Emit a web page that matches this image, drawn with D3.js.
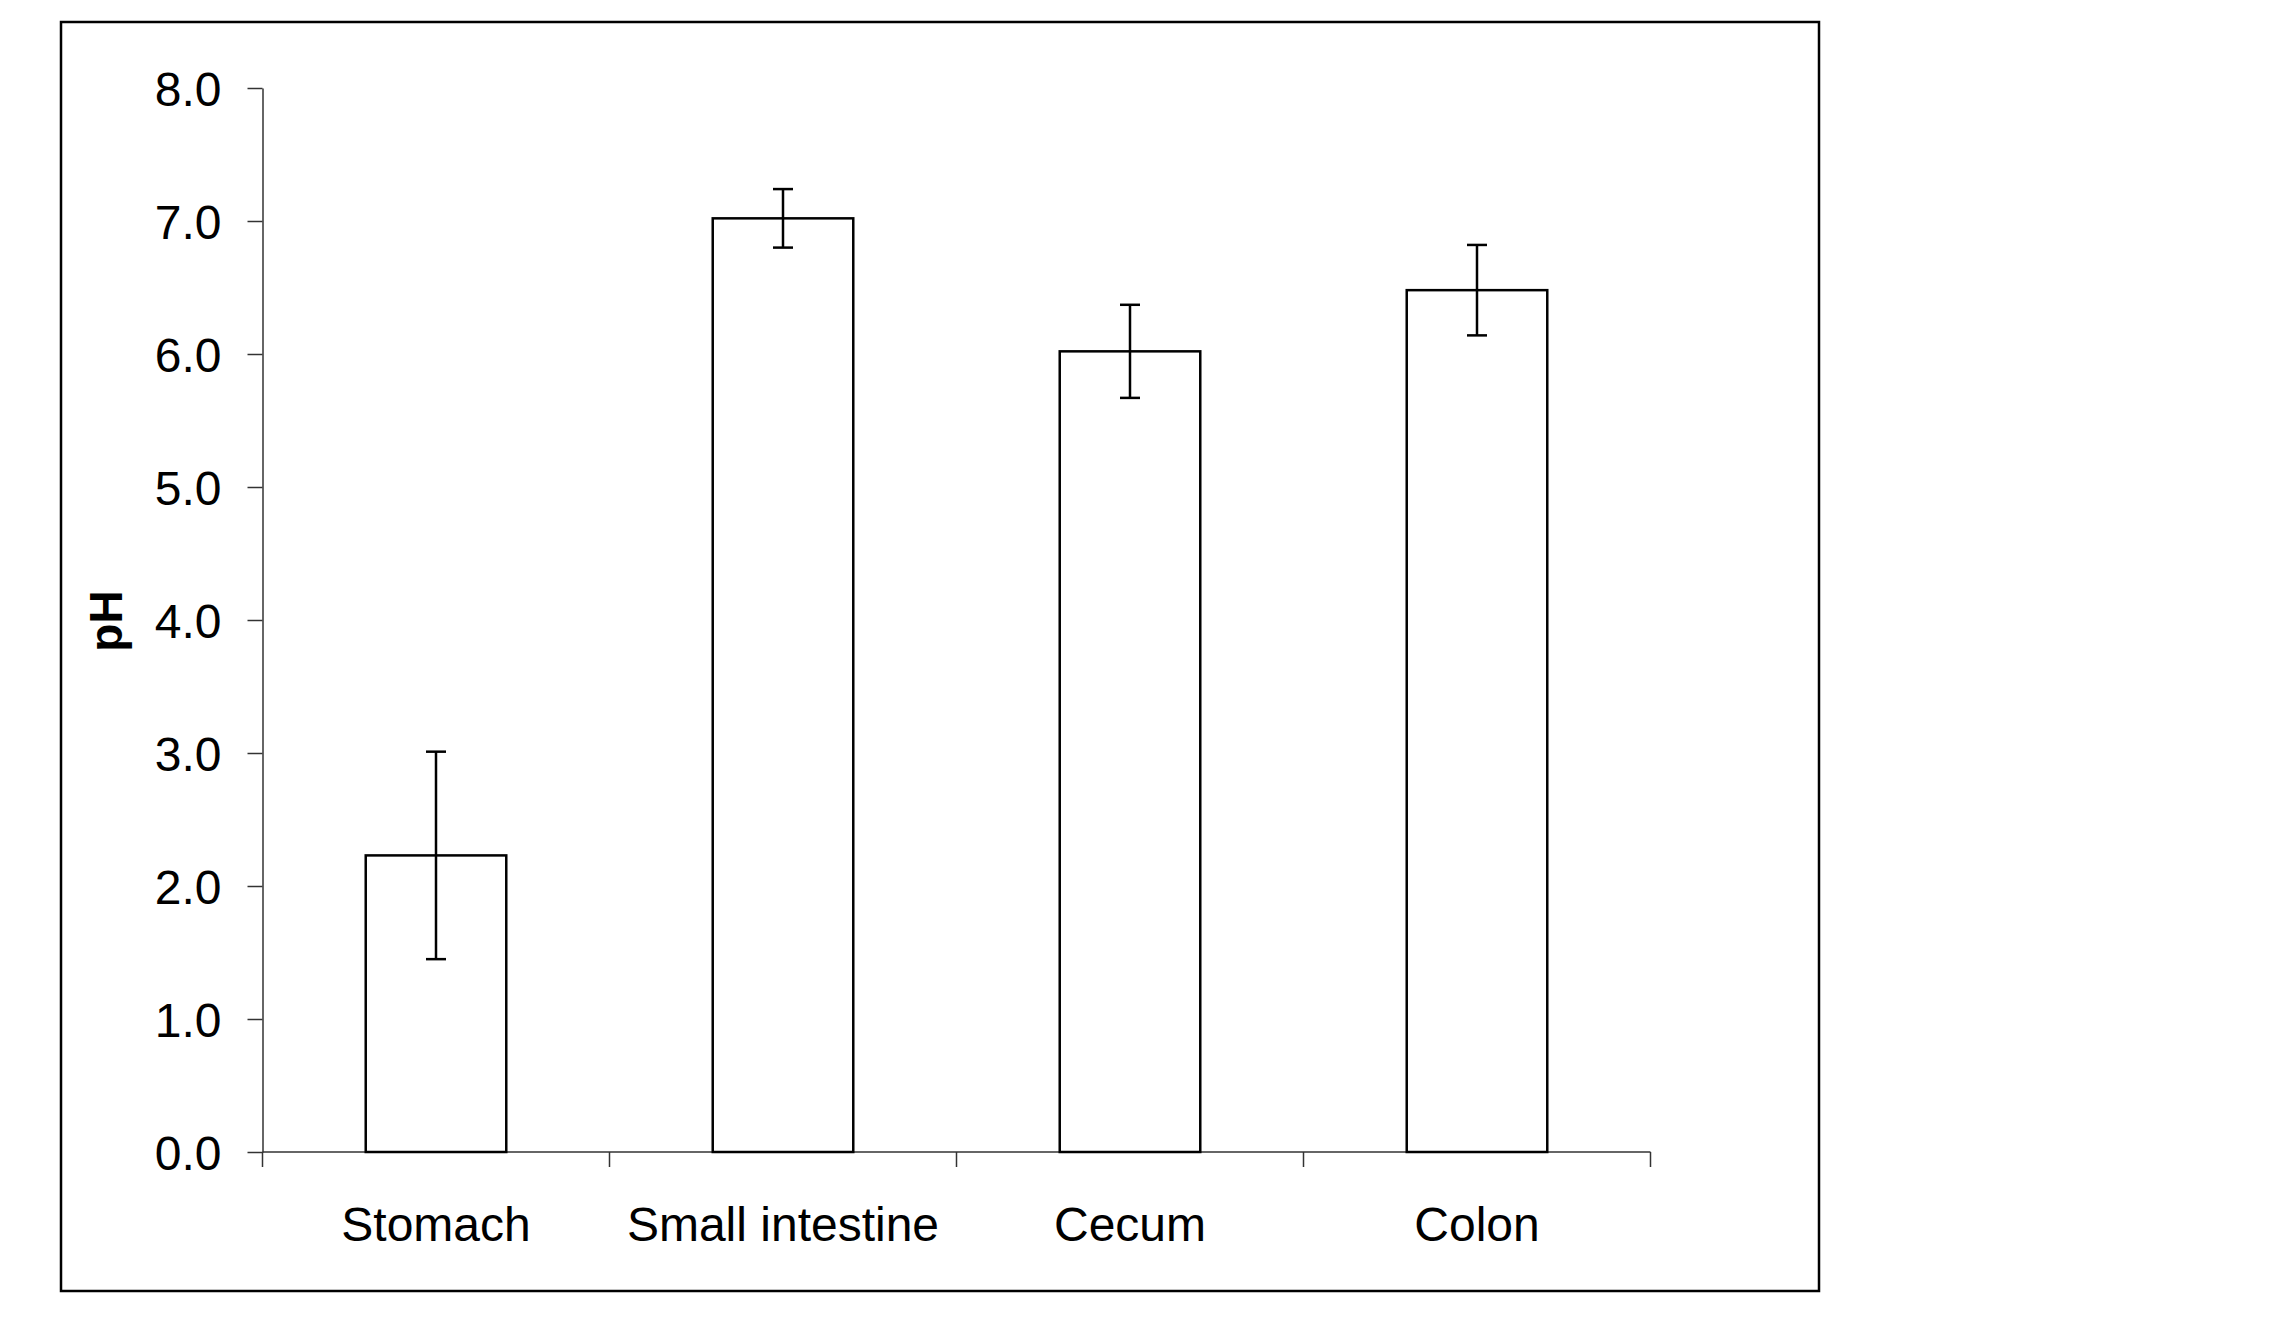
<!DOCTYPE html>
<html>
<head>
<meta charset="utf-8">
<script src="https://cdn.jsdelivr.net/npm/d3@7"></script>
<style>
  html, body { margin: 0; padding: 0; background: #fff; }
  svg { display: block; }
  text { font-family: "Liberation Sans", Arial, sans-serif; fill: #000; }
</style>
</head>
<body>
<svg id="chart" width="2273" height="1317"></svg>
<script>
const categories = ["Stomach", "Small intestine", "Cecum", "Colon"];
const phMeans = [2.23, 7.02, 6.02, 6.48];
const phErrors = [0.78, 0.22, 0.35, 0.34];
const yTicks = [0, 1, 2, 3, 4, 5, 6, 7, 8];
const yLabel = "pH";

const svg = d3.select("#chart");

// outer frame
svg.append("rect")
  .attr("x", 61).attr("y", 22)
  .attr("width", 1758).attr("height", 1269)
  .attr("fill", "none").attr("stroke", "#000").attr("stroke-width", 2.5);

const y = d3.scaleLinear().domain([0, 8]).range([1152, 88]);
const x = d3.scaleBand().domain(categories).range([262.5, 1650.5])
  .paddingInner(0.595).paddingOuter(0.2975);

const axisColor = "#333";

// Y axis
const yAxis = svg.append("g").attr("transform", "translate(262.5,0)")
  .call(d3.axisLeft(y).tickValues(yTicks).tickFormat(d3.format(".1f"))
    .tickSize(15).tickPadding(26).tickSizeOuter(0));
yAxis.select(".domain").attr("stroke", axisColor).attr("stroke-width", 1.5);
yAxis.selectAll(".tick line").attr("stroke", axisColor).attr("stroke-width", 1.5);
yAxis.selectAll(".tick text")
  .attr("font-size", 48).attr("dy", "0.36em")
  .style("font-family", "'Liberation Sans', Arial, sans-serif").attr("fill", "#000");

// X axis line and boundary ticks
const step = x.step();
const boundaries = categories.map(c => x(c) + x.bandwidth() / 2 - step / 2)
  .concat([x(categories[categories.length - 1]) + x.bandwidth() / 2 + step / 2]);
const xg = svg.append("g");
xg.append("line")
  .attr("x1", x.range()[0]).attr("x2", x.range()[1])
  .attr("y1", y(0)).attr("y2", y(0))
  .attr("stroke", axisColor).attr("stroke-width", 1.5);
xg.selectAll("line.xt").data(boundaries).enter().append("line")
  .attr("class", "xt")
  .attr("x1", d => d).attr("x2", d => d)
  .attr("y1", y(0)).attr("y2", y(0) + 15)
  .attr("stroke", axisColor).attr("stroke-width", 1.5);
xg.selectAll("text.xl").data(categories).enter().append("text")
  .attr("class", "xl")
  .attr("x", d => x(d) + x.bandwidth() / 2)
  .attr("y", y(0) + 89)
  .attr("text-anchor", "middle")
  .attr("font-size", 48)
  .text(d => d);

// Bars
const data = categories.map((c, i) => ({ c, m: phMeans[i], e: phErrors[i] }));
svg.append("g").selectAll("rect").data(data).enter().append("rect")
  .attr("x", d => x(d.c))
  .attr("y", d => y(d.m))
  .attr("width", x.bandwidth())
  .attr("height", d => y(0) - y(d.m))
  .attr("fill", "#fff").attr("stroke", "#000").attr("stroke-width", 2.5);

// Error bars
const eg = svg.append("g").attr("stroke", "#000").attr("stroke-width", 2.5);
data.forEach(d => {
  const cx = x(d.c) + x.bandwidth() / 2;
  eg.append("line").attr("x1", cx).attr("x2", cx)
    .attr("y1", y(d.m + d.e)).attr("y2", y(d.m - d.e));
  eg.append("line").attr("x1", cx - 10).attr("x2", cx + 10)
    .attr("y1", y(d.m + d.e)).attr("y2", y(d.m + d.e));
  eg.append("line").attr("x1", cx - 10).attr("x2", cx + 10)
    .attr("y1", y(d.m - d.e)).attr("y2", y(d.m - d.e));
});

// Y label
svg.append("text")
  .attr("transform", "translate(122,621) rotate(-90)")
  .attr("text-anchor", "middle")
  .attr("font-size", 46)
  .attr("font-weight", "bold")
  .text(yLabel);
</script>
</body>
</html>
